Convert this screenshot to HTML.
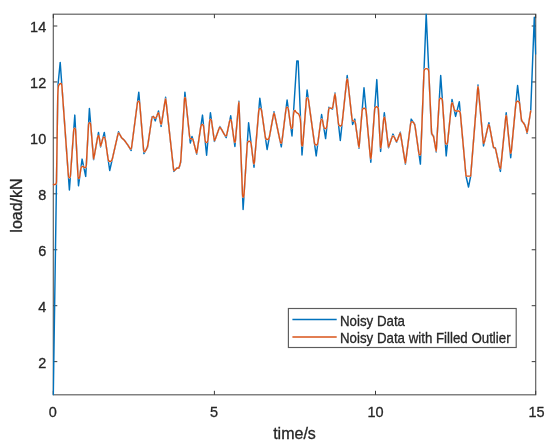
<!DOCTYPE html>
<html><head><meta charset="utf-8"><title>Noisy Data with Filled Outlier</title>
<style>
html,body{margin:0;padding:0;background:#fff;}
body{width:550px;height:446px;overflow:hidden;}
svg{display:block;}
text{font-family:"Liberation Sans",Arial,Helvetica,sans-serif;fill:#262626;stroke:#262626;stroke-width:0.3px;}
</style></head><body>
<svg width="550" height="446" viewBox="0 0 550 446">
<rect width="550" height="446" fill="#fff"/>
<defs><mask id="om" maskUnits="userSpaceOnUse" x="0" y="0" width="550" height="446"><rect width="550" height="446" fill="#fff"/><path d="M53.30,184.50 L54.90,184.50 Q56.43,184.50 56.48,181.50 L57.71,99.07 Q57.75,96.07 57.89,93.07 L58.06,89.60 Q58.20,86.60 58.59,85.62 L58.61,85.58 Q59.00,84.60 59.59,84.11 L59.61,84.09 Q60.20,83.60 60.74,83.55 L60.76,83.55 Q61.30,83.50 61.59,84.23 L61.61,84.27 Q61.90,85.00 62.08,87.99 L62.12,88.53 Q62.30,91.53 62.52,94.52 L68.30,174.81 Q68.52,177.80 69.38,177.80 L69.42,177.80 Q70.28,177.80 70.50,174.81 L73.63,131.29 Q73.85,128.30 74.65,128.30 L74.69,128.30 Q75.49,128.30 75.65,131.30 L77.96,175.50 Q78.12,178.50 78.79,178.50 L78.81,178.50 Q79.48,178.50 79.89,175.53 L80.71,169.37 Q81.12,166.40 82.34,166.40 L82.39,166.40 Q83.62,166.40 83.74,166.99 L83.75,167.01 Q83.87,167.60 85.00,167.60 L85.05,167.60 Q86.18,167.60 86.34,164.60 L88.46,125.70 Q88.63,122.70 89.58,122.70 L89.62,122.70 Q90.57,122.70 90.81,125.69 L93.30,155.91 Q93.54,158.90 93.63,158.90 L93.64,158.90 Q93.73,158.90 94.26,155.95 L97.41,138.45 Q97.94,135.50 98.44,135.50 L98.46,135.50 Q98.95,135.50 99.38,138.47 L100.07,143.23 Q100.50,146.20 100.64,146.20 L100.64,146.20 Q100.78,146.20 101.52,143.29 L102.31,140.21 Q103.05,137.30 104.00,137.30 L104.04,137.30 Q104.99,137.30 105.42,140.27 L108.00,158.53 Q108.42,161.50 110.05,161.50 L110.12,161.50 Q111.75,161.50 112.41,158.57 L117.56,135.93 Q118.23,133.00 118.65,133.00 L118.67,133.00 Q119.10,133.00 120.37,135.55 L120.43,135.65 Q121.70,138.20 122.78,138.89 L122.82,138.91 Q123.90,139.60 125.66,142.00 L125.74,142.10 Q127.50,144.50 128.86,146.71 L128.92,146.79 Q130.27,149.00 130.82,149.00 L130.85,149.00 Q131.40,149.00 131.78,146.03 L137.23,104.27 Q137.61,101.30 138.57,101.30 L138.60,101.30 Q139.56,101.30 139.80,104.29 L143.50,148.81 Q143.75,151.80 144.33,151.80 L144.35,151.80 Q144.93,151.80 146.19,149.59 L146.24,149.51 Q147.50,147.30 147.94,144.33 L151.56,119.87 Q152.00,116.90 152.74,116.66 L152.76,116.65 Q153.50,116.40 153.85,117.28 L153.87,117.32 Q154.22,118.20 155.17,118.20 L155.21,118.20 Q156.16,118.20 157.03,115.51 L157.06,115.39 Q157.92,112.70 158.35,112.70 L158.37,112.70 Q158.80,112.70 159.30,115.66 L160.28,121.54 Q160.78,124.50 161.08,124.50 L161.09,124.50 Q161.39,124.50 161.85,121.54 L164.94,101.56 Q165.40,98.60 165.57,98.60 L165.57,98.60 Q165.74,98.60 166.07,101.58 L173.39,167.72 Q173.72,170.70 174.07,170.70 L174.08,170.70 Q174.42,170.70 175.74,169.23 L175.79,169.17 Q177.10,167.70 177.98,167.99 L178.02,168.01 Q178.90,168.30 179.76,165.43 L179.84,165.17 Q180.70,162.30 180.88,159.31 L184.40,100.49 Q184.58,97.50 185.01,97.50 L185.03,97.50 Q185.46,97.50 185.78,100.48 L189.53,135.72 Q189.84,138.70 190.62,138.70 L190.65,138.70 Q191.42,138.70 192.04,138.70 L192.06,138.70 Q192.67,138.70 193.08,140.02 L193.09,140.08 Q193.50,141.40 194.23,144.31 L195.79,150.49 Q196.52,153.40 196.66,153.40 L196.67,153.40 Q196.80,153.40 197.25,150.43 L200.66,127.47 Q201.10,124.50 202.26,124.50 L202.30,124.50 Q203.46,124.50 203.76,127.48 L204.99,139.52 Q205.29,142.50 206.49,142.50 L206.54,142.50 Q207.74,142.50 208.01,139.51 L209.54,122.29 Q209.81,119.30 210.55,119.30 L210.58,119.30 Q211.32,119.30 211.73,122.27 L213.89,137.73 Q214.30,140.70 214.47,140.70 L214.48,140.70 Q214.65,140.70 215.67,137.88 L218.53,129.92 Q219.55,127.10 219.87,127.10 L219.88,127.10 Q220.20,127.10 221.67,129.71 L223.70,133.29 Q225.18,135.90 225.86,135.90 L225.89,135.90 Q226.57,135.90 227.17,132.96 L229.27,122.74 Q229.88,119.80 230.55,119.80 L230.58,119.80 Q231.25,119.80 231.65,122.77 L233.92,139.33 Q234.33,142.30 234.79,142.30 L234.81,142.30 Q235.27,142.30 235.54,139.31 L238.57,104.99 Q238.84,102.00 238.88,102.00 L238.88,102.00 Q238.93,102.00 239.04,105.00 L242.51,194.30 Q242.63,197.30 243.24,197.30 L243.26,197.30 Q243.87,197.30 244.06,194.31 L247.24,144.29 Q247.43,141.30 249.10,141.30 L249.17,141.30 Q250.85,141.30 251.21,144.28 L253.25,161.02 Q253.61,164.00 253.93,164.00 L253.95,164.00 Q254.27,164.00 254.52,161.01 L258.68,111.49 Q258.93,108.50 260.08,108.50 L260.12,108.50 Q261.27,108.50 261.69,111.47 L265.25,136.53 Q265.68,139.50 267.27,139.50 L267.34,139.50 Q268.93,139.50 269.47,136.55 L273.24,115.95 Q273.78,113.00 274.01,113.00 L274.02,113.00 Q274.25,113.00 274.86,115.94 L279.94,140.26 Q280.55,143.20 281.14,143.20 L281.16,143.20 Q281.75,143.20 282.12,140.22 L285.83,110.28 Q286.20,107.30 287.13,107.30 L287.16,107.30 Q288.09,107.30 288.50,110.27 L290.57,125.53 Q290.98,128.50 291.71,128.50 L291.74,128.50 Q292.48,128.50 292.67,125.51 L293.11,118.68 Q293.30,115.69 293.81,112.73 L293.89,112.26 Q294.40,109.30 295.33,111.02 L295.37,111.08 Q296.30,112.80 297.62,113.19 L297.68,113.21 Q299.00,113.60 299.69,116.52 L299.91,117.45 Q300.60,120.37 300.72,123.37 L301.51,142.90 Q301.63,145.90 302.16,145.90 L302.18,145.90 Q302.71,145.90 302.95,142.91 L306.27,100.59 Q306.50,97.60 307.31,97.60 L307.34,97.60 Q308.15,97.60 308.56,100.57 L314.28,142.03 Q314.69,145.00 316.13,145.00 L316.19,145.00 Q317.62,145.00 318.01,142.03 L320.61,122.07 Q321.00,119.10 321.67,119.10 L321.70,119.10 Q322.36,119.10 322.85,122.06 L323.45,125.64 Q323.94,128.60 325.27,128.60 L325.32,128.60 Q326.65,128.60 326.97,125.62 L328.51,110.98 Q328.83,108.00 329.55,108.00 L329.58,108.00 Q330.30,108.00 330.69,108.20 L330.71,108.20 Q331.10,108.40 331.84,108.40 L331.87,108.40 Q332.61,108.40 333.07,105.44 L334.43,96.66 Q334.89,93.70 334.98,93.70 L334.99,93.70 Q335.08,93.70 335.41,96.68 L338.35,123.02 Q338.68,126.00 340.23,126.00 L340.29,126.00 Q341.84,126.00 342.16,123.02 L346.51,81.98 Q346.83,79.00 347.20,79.00 L347.21,79.00 Q347.59,79.00 347.91,81.98 L351.89,118.02 Q352.21,121.00 353.10,121.00 L353.14,121.00 Q354.03,121.00 354.54,121.00 L354.56,121.00 Q355.07,121.00 355.50,123.97 L358.47,144.63 Q358.90,147.60 358.98,147.60 L358.98,147.60 Q359.06,147.60 359.30,144.61 L362.07,111.19 Q362.31,108.20 364.05,108.20 L364.12,108.20 Q365.86,108.20 366.13,111.19 L370.19,155.61 Q370.46,158.60 370.76,158.60 L370.77,158.60 Q371.07,158.60 371.29,155.61 L374.62,109.69 Q374.83,106.70 376.50,106.70 L376.57,106.70 Q378.23,106.70 378.39,109.70 L380.26,145.00 Q380.42,148.00 380.67,148.00 L380.68,148.00 Q380.93,148.00 381.21,145.01 L383.57,120.29 Q383.86,117.30 384.35,117.30 L384.37,117.30 Q384.85,117.30 385.21,120.28 L388.06,144.02 Q388.42,147.00 388.57,147.00 L388.58,147.00 Q388.73,147.00 389.67,144.15 L391.46,138.75 Q392.40,135.90 393.08,135.90 L393.11,135.90 Q393.79,135.90 395.00,138.65 L395.09,138.85 Q396.29,141.60 396.57,141.60 L396.58,141.60 Q396.86,141.60 397.90,138.79 L399.00,135.81 Q400.04,133.00 400.22,133.00 L400.23,133.00 Q400.41,133.00 400.89,135.96 L404.81,160.44 Q405.29,163.40 405.39,163.40 L405.39,163.40 Q405.49,163.40 405.87,160.42 L410.47,124.78 Q410.85,121.80 411.90,121.80 L411.95,121.80 Q413.00,121.80 413.88,123.12 L413.92,123.18 Q414.80,124.50 415.22,127.47 L418.69,152.03 Q419.11,155.00 419.92,155.00 L419.95,155.00 Q420.75,155.00 420.87,152.00 L423.98,71.60 Q424.09,68.60 426.33,68.60 L426.42,68.60 Q428.65,68.60 428.79,71.60 L431.47,131.10 Q431.60,134.10 432.53,134.98 L432.57,135.02 Q433.50,135.90 434.00,138.86 L435.58,148.24 Q436.08,151.20 436.16,151.20 L436.16,151.20 Q436.24,151.20 436.42,148.21 L439.19,101.19 Q439.36,98.20 440.78,98.20 L440.84,98.20 Q442.25,98.20 442.46,101.19 L445.19,141.11 Q445.39,144.10 446.38,144.10 L446.42,144.10 Q447.41,144.10 447.72,141.12 L451.36,105.68 Q451.67,102.70 452.17,102.70 L452.19,102.70 Q452.68,102.70 453.31,105.63 L453.80,107.97 Q454.43,110.90 455.69,110.90 L455.74,110.90 Q456.99,110.90 458.53,110.90 L458.59,110.90 Q460.12,110.90 460.39,113.89 L465.73,173.01 Q466.00,176.00 466.01,176.05 L466.01,176.05 Q466.02,176.10 468.30,176.10 L468.40,176.10 Q470.68,176.10 470.69,176.05 L470.69,176.05 Q470.70,176.00 470.94,173.01 L477.64,89.39 Q477.88,86.40 478.00,86.40 L478.01,86.40 Q478.14,86.40 478.40,89.39 L483.01,140.51 Q483.28,143.50 483.66,143.50 L483.68,143.50 Q484.06,143.50 484.74,140.58 L487.80,127.42 Q488.48,124.50 488.85,124.50 L488.86,124.50 Q489.23,124.50 489.77,127.45 L492.96,144.75 Q493.50,147.70 494.38,147.70 L494.42,147.70 Q495.30,147.70 495.93,150.63 L499.17,165.67 Q499.80,168.60 500.23,168.60 L500.25,168.60 Q500.68,168.60 500.97,165.61 L505.63,118.49 Q505.92,115.50 506.20,115.50 L506.21,115.50 Q506.48,115.50 506.78,118.49 L509.95,150.21 Q510.25,153.20 510.68,153.20 L510.70,153.20 Q511.13,153.20 511.42,150.21 L515.81,104.19 Q516.10,101.20 517.69,101.20 L517.76,101.20 Q519.35,101.20 519.69,104.18 L521.27,118.32 Q521.60,121.30 522.83,122.28 L522.88,122.32 Q524.10,123.30 525.08,125.80 L525.12,125.90 Q526.10,128.40 526.52,130.51 L526.54,130.59 Q526.96,132.70 527.08,132.70 L527.09,132.70 Q527.21,132.70 527.69,129.74 L530.70,111.00" fill="none" stroke="#000" stroke-width="1.65" stroke-linejoin="round" stroke-linecap="round"/></mask><clipPath id="ax"><rect x="52.5" y="13.399999999999999" width="484.00" height="382.20"/></clipPath></defs>
<g stroke="#5c5c5c" stroke-width="1.15" fill="none">
<rect x="53.3" y="14.2" width="482.40" height="380.60"/>
</g>
<g stroke="#3a3a3a" stroke-width="1"><line x1="53.3" y1="361.64" x2="57.30" y2="361.64"/><line x1="535.7" y1="361.64" x2="531.70" y2="361.64"/><line x1="53.3" y1="305.70" x2="57.30" y2="305.70"/><line x1="535.7" y1="305.70" x2="531.70" y2="305.70"/><line x1="53.3" y1="249.76" x2="57.30" y2="249.76"/><line x1="535.7" y1="249.76" x2="531.70" y2="249.76"/><line x1="53.3" y1="193.82" x2="57.30" y2="193.82"/><line x1="535.7" y1="193.82" x2="531.70" y2="193.82"/><line x1="53.3" y1="137.88" x2="57.30" y2="137.88"/><line x1="535.7" y1="137.88" x2="531.70" y2="137.88"/><line x1="53.3" y1="81.94" x2="57.30" y2="81.94"/><line x1="535.7" y1="81.94" x2="531.70" y2="81.94"/><line x1="53.3" y1="26.00" x2="57.30" y2="26.00"/><line x1="535.7" y1="26.00" x2="531.70" y2="26.00"/><line x1="53.30" y1="394.8" x2="53.30" y2="390.80"/><line x1="53.30" y1="14.2" x2="53.30" y2="18.20"/><line x1="214.40" y1="394.8" x2="214.40" y2="390.80"/><line x1="214.40" y1="14.2" x2="214.40" y2="18.20"/><line x1="375.50" y1="394.8" x2="375.50" y2="390.80"/><line x1="375.50" y1="14.2" x2="375.50" y2="18.20"/><line x1="535.70" y1="394.8" x2="535.70" y2="390.80"/><line x1="535.70" y1="14.2" x2="535.70" y2="18.20"/></g>
<g clip-path="url(#ax)" fill="none" stroke-linejoin="round" stroke-linecap="round">
<polyline points="53.30,394.80 57.90,86.00 60.20,62.40 69.40,190.00 74.80,115.10 78.50,185.80 82.10,159.10 85.70,176.40 89.40,108.50 93.60,159.60 98.50,132.40 100.60,146.90 104.30,132.40 109.70,170.50 118.50,131.80 121.70,138.20 123.90,139.60 127.50,144.50 131.20,150.50 138.80,92.20 143.90,153.60 147.50,147.30 152.00,116.90 153.50,116.40 155.30,120.90 158.50,110.90 161.10,126.40 165.60,97.30 173.80,171.40 177.10,167.70 178.90,168.30 180.70,162.30 184.90,92.20 190.30,143.00 192.00,136.50 193.50,141.40 196.70,154.10 202.50,115.10 206.60,155.30 210.40,112.70 214.40,141.40 219.80,126.40 226.20,137.70 230.70,115.80 234.90,146.50 238.90,101.30 243.10,209.50 248.60,122.80 254.00,167.20 259.80,98.20 267.10,149.50 274.00,111.80 281.30,146.80 287.10,100.00 292.00,136.00 296.80,61.00 298.20,61.00 302.00,155.00 307.10,90.00 316.20,155.90 321.60,114.50 325.60,138.60 328.90,107.30 332.50,109.10 335.00,93.00 340.30,140.50 347.20,75.50 352.60,124.50 354.80,119.10 359.00,148.30 364.00,87.80 370.80,162.30 376.80,79.60 380.60,151.40 384.30,112.70 388.50,147.70 393.00,134.10 396.60,142.30 400.30,132.30 405.40,164.10 411.20,119.10 414.80,124.50 420.40,164.10 426.20,14.10 431.60,134.10 433.50,135.90 436.20,151.90 440.70,75.50 446.20,155.90 452.00,99.50 455.60,116.40 459.30,101.80 466.00,176.00 468.50,187.10 470.70,176.00 478.00,84.90 483.50,145.90 488.90,122.70 493.50,147.70 495.30,147.70 500.40,171.40 506.20,112.70 510.70,157.70 517.60,85.50 521.60,121.30 524.10,123.30 526.10,128.40 527.10,133.40 530.70,111.00 534.30,17.30 535.70,54.00" stroke="#0072BD" stroke-width="1.45" mask="url(#om)"/>
<path d="M53.30,184.50 L54.90,184.50 Q56.43,184.50 56.48,181.50 L57.71,99.07 Q57.75,96.07 57.89,93.07 L58.06,89.60 Q58.20,86.60 58.59,85.62 L58.61,85.58 Q59.00,84.60 59.59,84.11 L59.61,84.09 Q60.20,83.60 60.74,83.55 L60.76,83.55 Q61.30,83.50 61.59,84.23 L61.61,84.27 Q61.90,85.00 62.08,87.99 L62.12,88.53 Q62.30,91.53 62.52,94.52 L68.30,174.81 Q68.52,177.80 69.38,177.80 L69.42,177.80 Q70.28,177.80 70.50,174.81 L73.63,131.29 Q73.85,128.30 74.65,128.30 L74.69,128.30 Q75.49,128.30 75.65,131.30 L77.96,175.50 Q78.12,178.50 78.79,178.50 L78.81,178.50 Q79.48,178.50 79.89,175.53 L80.71,169.37 Q81.12,166.40 82.34,166.40 L82.39,166.40 Q83.62,166.40 83.74,166.99 L83.75,167.01 Q83.87,167.60 85.00,167.60 L85.05,167.60 Q86.18,167.60 86.34,164.60 L88.46,125.70 Q88.63,122.70 89.58,122.70 L89.62,122.70 Q90.57,122.70 90.81,125.69 L93.30,155.91 Q93.54,158.90 93.63,158.90 L93.64,158.90 Q93.73,158.90 94.26,155.95 L97.41,138.45 Q97.94,135.50 98.44,135.50 L98.46,135.50 Q98.95,135.50 99.38,138.47 L100.07,143.23 Q100.50,146.20 100.64,146.20 L100.64,146.20 Q100.78,146.20 101.52,143.29 L102.31,140.21 Q103.05,137.30 104.00,137.30 L104.04,137.30 Q104.99,137.30 105.42,140.27 L108.00,158.53 Q108.42,161.50 110.05,161.50 L110.12,161.50 Q111.75,161.50 112.41,158.57 L117.56,135.93 Q118.23,133.00 118.65,133.00 L118.67,133.00 Q119.10,133.00 120.37,135.55 L120.43,135.65 Q121.70,138.20 122.78,138.89 L122.82,138.91 Q123.90,139.60 125.66,142.00 L125.74,142.10 Q127.50,144.50 128.86,146.71 L128.92,146.79 Q130.27,149.00 130.82,149.00 L130.85,149.00 Q131.40,149.00 131.78,146.03 L137.23,104.27 Q137.61,101.30 138.57,101.30 L138.60,101.30 Q139.56,101.30 139.80,104.29 L143.50,148.81 Q143.75,151.80 144.33,151.80 L144.35,151.80 Q144.93,151.80 146.19,149.59 L146.24,149.51 Q147.50,147.30 147.94,144.33 L151.56,119.87 Q152.00,116.90 152.74,116.66 L152.76,116.65 Q153.50,116.40 153.85,117.28 L153.87,117.32 Q154.22,118.20 155.17,118.20 L155.21,118.20 Q156.16,118.20 157.03,115.51 L157.06,115.39 Q157.92,112.70 158.35,112.70 L158.37,112.70 Q158.80,112.70 159.30,115.66 L160.28,121.54 Q160.78,124.50 161.08,124.50 L161.09,124.50 Q161.39,124.50 161.85,121.54 L164.94,101.56 Q165.40,98.60 165.57,98.60 L165.57,98.60 Q165.74,98.60 166.07,101.58 L173.39,167.72 Q173.72,170.70 174.07,170.70 L174.08,170.70 Q174.42,170.70 175.74,169.23 L175.79,169.17 Q177.10,167.70 177.98,167.99 L178.02,168.01 Q178.90,168.30 179.76,165.43 L179.84,165.17 Q180.70,162.30 180.88,159.31 L184.40,100.49 Q184.58,97.50 185.01,97.50 L185.03,97.50 Q185.46,97.50 185.78,100.48 L189.53,135.72 Q189.84,138.70 190.62,138.70 L190.65,138.70 Q191.42,138.70 192.04,138.70 L192.06,138.70 Q192.67,138.70 193.08,140.02 L193.09,140.08 Q193.50,141.40 194.23,144.31 L195.79,150.49 Q196.52,153.40 196.66,153.40 L196.67,153.40 Q196.80,153.40 197.25,150.43 L200.66,127.47 Q201.10,124.50 202.26,124.50 L202.30,124.50 Q203.46,124.50 203.76,127.48 L204.99,139.52 Q205.29,142.50 206.49,142.50 L206.54,142.50 Q207.74,142.50 208.01,139.51 L209.54,122.29 Q209.81,119.30 210.55,119.30 L210.58,119.30 Q211.32,119.30 211.73,122.27 L213.89,137.73 Q214.30,140.70 214.47,140.70 L214.48,140.70 Q214.65,140.70 215.67,137.88 L218.53,129.92 Q219.55,127.10 219.87,127.10 L219.88,127.10 Q220.20,127.10 221.67,129.71 L223.70,133.29 Q225.18,135.90 225.86,135.90 L225.89,135.90 Q226.57,135.90 227.17,132.96 L229.27,122.74 Q229.88,119.80 230.55,119.80 L230.58,119.80 Q231.25,119.80 231.65,122.77 L233.92,139.33 Q234.33,142.30 234.79,142.30 L234.81,142.30 Q235.27,142.30 235.54,139.31 L238.57,104.99 Q238.84,102.00 238.88,102.00 L238.88,102.00 Q238.93,102.00 239.04,105.00 L242.51,194.30 Q242.63,197.30 243.24,197.30 L243.26,197.30 Q243.87,197.30 244.06,194.31 L247.24,144.29 Q247.43,141.30 249.10,141.30 L249.17,141.30 Q250.85,141.30 251.21,144.28 L253.25,161.02 Q253.61,164.00 253.93,164.00 L253.95,164.00 Q254.27,164.00 254.52,161.01 L258.68,111.49 Q258.93,108.50 260.08,108.50 L260.12,108.50 Q261.27,108.50 261.69,111.47 L265.25,136.53 Q265.68,139.50 267.27,139.50 L267.34,139.50 Q268.93,139.50 269.47,136.55 L273.24,115.95 Q273.78,113.00 274.01,113.00 L274.02,113.00 Q274.25,113.00 274.86,115.94 L279.94,140.26 Q280.55,143.20 281.14,143.20 L281.16,143.20 Q281.75,143.20 282.12,140.22 L285.83,110.28 Q286.20,107.30 287.13,107.30 L287.16,107.30 Q288.09,107.30 288.50,110.27 L290.57,125.53 Q290.98,128.50 291.71,128.50 L291.74,128.50 Q292.48,128.50 292.67,125.51 L293.11,118.68 Q293.30,115.69 293.81,112.73 L293.89,112.26 Q294.40,109.30 295.33,111.02 L295.37,111.08 Q296.30,112.80 297.62,113.19 L297.68,113.21 Q299.00,113.60 299.69,116.52 L299.91,117.45 Q300.60,120.37 300.72,123.37 L301.51,142.90 Q301.63,145.90 302.16,145.90 L302.18,145.90 Q302.71,145.90 302.95,142.91 L306.27,100.59 Q306.50,97.60 307.31,97.60 L307.34,97.60 Q308.15,97.60 308.56,100.57 L314.28,142.03 Q314.69,145.00 316.13,145.00 L316.19,145.00 Q317.62,145.00 318.01,142.03 L320.61,122.07 Q321.00,119.10 321.67,119.10 L321.70,119.10 Q322.36,119.10 322.85,122.06 L323.45,125.64 Q323.94,128.60 325.27,128.60 L325.32,128.60 Q326.65,128.60 326.97,125.62 L328.51,110.98 Q328.83,108.00 329.55,108.00 L329.58,108.00 Q330.30,108.00 330.69,108.20 L330.71,108.20 Q331.10,108.40 331.84,108.40 L331.87,108.40 Q332.61,108.40 333.07,105.44 L334.43,96.66 Q334.89,93.70 334.98,93.70 L334.99,93.70 Q335.08,93.70 335.41,96.68 L338.35,123.02 Q338.68,126.00 340.23,126.00 L340.29,126.00 Q341.84,126.00 342.16,123.02 L346.51,81.98 Q346.83,79.00 347.20,79.00 L347.21,79.00 Q347.59,79.00 347.91,81.98 L351.89,118.02 Q352.21,121.00 353.10,121.00 L353.14,121.00 Q354.03,121.00 354.54,121.00 L354.56,121.00 Q355.07,121.00 355.50,123.97 L358.47,144.63 Q358.90,147.60 358.98,147.60 L358.98,147.60 Q359.06,147.60 359.30,144.61 L362.07,111.19 Q362.31,108.20 364.05,108.20 L364.12,108.20 Q365.86,108.20 366.13,111.19 L370.19,155.61 Q370.46,158.60 370.76,158.60 L370.77,158.60 Q371.07,158.60 371.29,155.61 L374.62,109.69 Q374.83,106.70 376.50,106.70 L376.57,106.70 Q378.23,106.70 378.39,109.70 L380.26,145.00 Q380.42,148.00 380.67,148.00 L380.68,148.00 Q380.93,148.00 381.21,145.01 L383.57,120.29 Q383.86,117.30 384.35,117.30 L384.37,117.30 Q384.85,117.30 385.21,120.28 L388.06,144.02 Q388.42,147.00 388.57,147.00 L388.58,147.00 Q388.73,147.00 389.67,144.15 L391.46,138.75 Q392.40,135.90 393.08,135.90 L393.11,135.90 Q393.79,135.90 395.00,138.65 L395.09,138.85 Q396.29,141.60 396.57,141.60 L396.58,141.60 Q396.86,141.60 397.90,138.79 L399.00,135.81 Q400.04,133.00 400.22,133.00 L400.23,133.00 Q400.41,133.00 400.89,135.96 L404.81,160.44 Q405.29,163.40 405.39,163.40 L405.39,163.40 Q405.49,163.40 405.87,160.42 L410.47,124.78 Q410.85,121.80 411.90,121.80 L411.95,121.80 Q413.00,121.80 413.88,123.12 L413.92,123.18 Q414.80,124.50 415.22,127.47 L418.69,152.03 Q419.11,155.00 419.92,155.00 L419.95,155.00 Q420.75,155.00 420.87,152.00 L423.98,71.60 Q424.09,68.60 426.33,68.60 L426.42,68.60 Q428.65,68.60 428.79,71.60 L431.47,131.10 Q431.60,134.10 432.53,134.98 L432.57,135.02 Q433.50,135.90 434.00,138.86 L435.58,148.24 Q436.08,151.20 436.16,151.20 L436.16,151.20 Q436.24,151.20 436.42,148.21 L439.19,101.19 Q439.36,98.20 440.78,98.20 L440.84,98.20 Q442.25,98.20 442.46,101.19 L445.19,141.11 Q445.39,144.10 446.38,144.10 L446.42,144.10 Q447.41,144.10 447.72,141.12 L451.36,105.68 Q451.67,102.70 452.17,102.70 L452.19,102.70 Q452.68,102.70 453.31,105.63 L453.80,107.97 Q454.43,110.90 455.69,110.90 L455.74,110.90 Q456.99,110.90 458.53,110.90 L458.59,110.90 Q460.12,110.90 460.39,113.89 L465.73,173.01 Q466.00,176.00 466.01,176.05 L466.01,176.05 Q466.02,176.10 468.30,176.10 L468.40,176.10 Q470.68,176.10 470.69,176.05 L470.69,176.05 Q470.70,176.00 470.94,173.01 L477.64,89.39 Q477.88,86.40 478.00,86.40 L478.01,86.40 Q478.14,86.40 478.40,89.39 L483.01,140.51 Q483.28,143.50 483.66,143.50 L483.68,143.50 Q484.06,143.50 484.74,140.58 L487.80,127.42 Q488.48,124.50 488.85,124.50 L488.86,124.50 Q489.23,124.50 489.77,127.45 L492.96,144.75 Q493.50,147.70 494.38,147.70 L494.42,147.70 Q495.30,147.70 495.93,150.63 L499.17,165.67 Q499.80,168.60 500.23,168.60 L500.25,168.60 Q500.68,168.60 500.97,165.61 L505.63,118.49 Q505.92,115.50 506.20,115.50 L506.21,115.50 Q506.48,115.50 506.78,118.49 L509.95,150.21 Q510.25,153.20 510.68,153.20 L510.70,153.20 Q511.13,153.20 511.42,150.21 L515.81,104.19 Q516.10,101.20 517.69,101.20 L517.76,101.20 Q519.35,101.20 519.69,104.18 L521.27,118.32 Q521.60,121.30 522.83,122.28 L522.88,122.32 Q524.10,123.30 525.08,125.80 L525.12,125.90 Q526.10,128.40 526.52,130.51 L526.54,130.59 Q526.96,132.70 527.08,132.70 L527.09,132.70 Q527.21,132.70 527.69,129.74 L530.70,111.00" stroke="#D95319" stroke-width="1.45"/>
</g>
<g font-size="15.3">
<text transform="translate(46.2,367.84) scale(0.9477,1)" text-anchor="end">2</text><text transform="translate(46.2,311.90) scale(0.9477,1)" text-anchor="end">4</text><text transform="translate(46.2,255.96) scale(0.9477,1)" text-anchor="end">6</text><text transform="translate(46.2,200.02) scale(0.9477,1)" text-anchor="end">8</text><text transform="translate(46.2,144.08) scale(0.9477,1)" text-anchor="end">10</text><text transform="translate(46.2,88.14) scale(0.9477,1)" text-anchor="end">12</text><text transform="translate(46.2,32.20) scale(0.9477,1)" text-anchor="end">14</text><text transform="translate(52.80,416.9) scale(0.9477,1)" text-anchor="middle">0</text><text transform="translate(214.00,416.9) scale(0.9477,1)" text-anchor="middle">5</text><text transform="translate(375.60,416.9) scale(0.9477,1)" text-anchor="middle">10</text><text transform="translate(536.50,416.9) scale(0.9477,1)" text-anchor="middle">15</text>
</g>
<text x="294.5" y="438.8" font-size="16" text-anchor="middle">time/s</text>
<text transform="translate(21.7,205.5) rotate(-90)" font-size="16" text-anchor="middle">load/kN</text>
<g>
<rect x="288.4" y="308.5" width="227.8" height="39" fill="#fff" stroke="#5c5c5c" stroke-width="1.15"/>
<line x1="292.4" y1="319.4" x2="336.7" y2="319.4" stroke="#0072BD" stroke-width="1.45"/>
<line x1="292.4" y1="337.0" x2="336.7" y2="337.0" stroke="#D95319" stroke-width="1.45"/>
<text transform="translate(340,325.5) scale(0.95,1)" font-size="14.0">Noisy Data</text>
<text transform="translate(340,342.5) scale(0.95,1)" font-size="14.0">Noisy Data with Filled Outlier</text>
</g>
</svg>
</body></html>
